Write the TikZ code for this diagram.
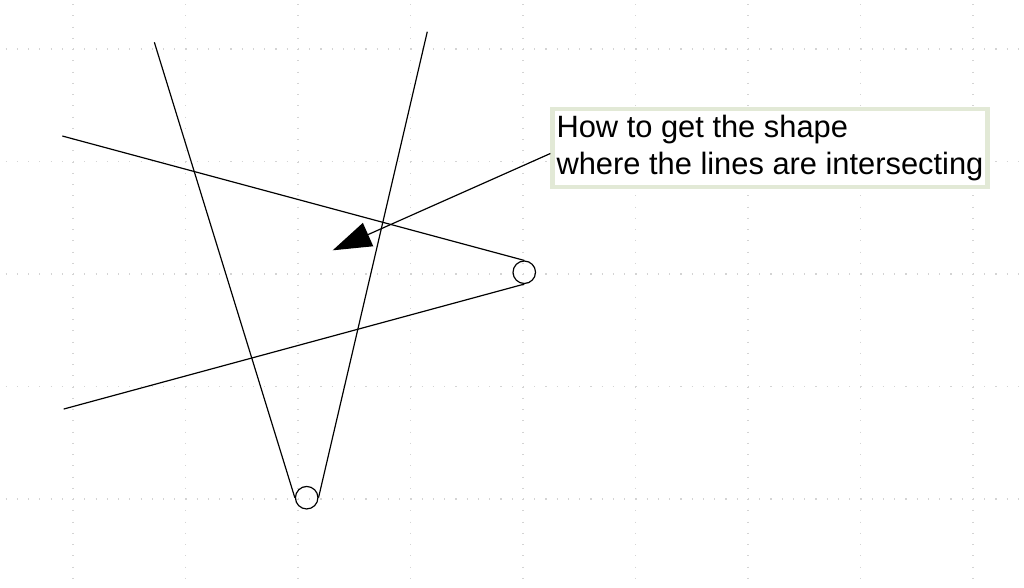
\documentclass[tikz,border=0pt]{standalone}
\usepackage{fontspec}
\setmainfont{Liberation Sans}
\usetikzlibrary{positioning,arrows.meta,calc}
\tikzset{>={Triangle[length=9.8pt,width=6.4pt]}}
\definecolor{noteframe}{RGB}{226,233,214}
\definecolor{griddot}{RGB}{212,212,212}

\begin{document}
\begin{tikzpicture}[line width=0.3pt,
    gridline/.style={griddot, line width=0.3pt, dash pattern=on 0.3pt off 2.545pt},
    ring/.style={circle, draw, minimum size=0.2cm, inner sep=0pt},
    note/.style={draw=noteframe, line width=1.13pt, fill=white, align=left,
        inner xsep=1pt, inner ysep=1.6pt, font=\fontsize{7.8}{9.2}\selectfont}]
        \useasboundingbox (0,0) rectangle (9.102,-5.218);
        % dotted background grid
        \foreach \y in {0,...,4}
            \draw[gridline] (0.049,-0.436-\y) -- (9.102,-0.436-\y);
        \foreach \x in {0,...,8}
            \draw[gridline] (0.649+\x,-0.036) -- (0.649+\x,-5.218);

        \node[ring] (bottom) at (2.726,-4.424) {}; %lower joint
        \node[ring] (side) at (4.660,-2.420) {}; %right joint
        \coordinate (l1) at (1.372,-0.376);
        \coordinate (l2) at (3.798,-0.282);
        \coordinate (l3) at (0.554,-1.209);
        \coordinate (l4) at (0.566,-3.636);

        \draw (l1) -- (bottom.west);
        \draw (l2) -- (bottom.east);
        \draw (l3) -- (side.north);
        \draw (l4) -- (side.south);

        \node[note, anchor=north west] (note) at (4.892,-0.949)
            {How to get the shape\\where the lines are intersecting};
        \coordinate (aim) at (2.957,-2.225);
        \draw[->] ($(note.west)+(0,-0.05)$) -- (aim); % pointer from the note
\end{tikzpicture}
\end{document}
